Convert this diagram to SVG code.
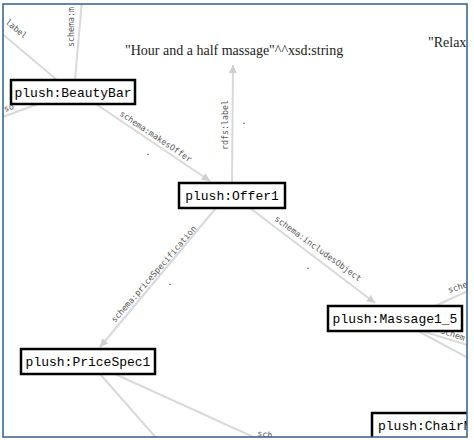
<svg xmlns="http://www.w3.org/2000/svg" width="474" height="440" viewBox="0 0 474 440">
<style>
.edge{stroke:#d9d9d9;stroke-width:2;fill:none}
.el{font-family:"DejaVu Sans Mono","Liberation Mono",monospace;font-size:8.3px;fill:#555}
.dot{font-family:"Liberation Mono",monospace;font-size:9px;fill:#333}
.box{fill:#fff;stroke:#000;stroke-width:2.5}
.nl{font-family:"Liberation Mono","DejaVu Sans Mono",monospace;font-size:13px;fill:#000}
.lit{font-family:"Liberation Serif","Times New Roman",serif;font-size:14px;fill:#222}
</style>
<defs>
<marker id="arr" viewBox="0 0 10 10" refX="10" refY="5" markerWidth="10" markerHeight="8" markerUnits="userSpaceOnUse" orient="auto">
<path d="M0,0 L10,5 L0,10 z" fill="#cfcfcf"/>
</marker>
<clipPath id="frame"><rect x="3" y="4" width="464" height="433"/></clipPath>
</defs>
<rect x="0" y="0" width="474" height="440" fill="#fff"/>
<g clip-path="url(#frame)">
<g id="connectors">
<line class="edge" x1="232" y1="183" x2="233" y2="65" marker-end="url(#arr)"/>
<line class="edge" x1="96" y1="104" x2="210" y2="181" marker-end="url(#arr)"/>
<line class="edge" x1="216" y1="208" x2="100" y2="347" marker-end="url(#arr)"/>
<line class="edge" x1="250" y1="208" x2="375" y2="303" marker-end="url(#arr)"/>
<line class="edge" x1="82" y1="0" x2="75" y2="80"/>
<line class="edge" x1="0" y1="32" x2="57" y2="80"/>
<line class="edge" x1="0" y1="118" x2="38" y2="104"/>
<line class="edge" x1="435" y1="306" x2="470" y2="290"/>
<line class="edge" x1="422" y1="331" x2="470" y2="346"/>
<line class="edge" x1="418" y1="331" x2="470" y2="359"/>
<line class="edge" x1="100" y1="374" x2="158" y2="440"/>
<line class="edge" x1="115" y1="374" x2="260" y2="440"/>
<text class="el" transform="translate(228,150) rotate(-90)">rdfs:label</text>
<text class="el" transform="translate(119,115) rotate(34)">schema:makesOffer</text>
<text class="el" transform="translate(115,323) rotate(-49)">schema:priceSpecification</text>
<text class="el" transform="translate(274,220) rotate(36)">schema:includesObject</text>
<text class="el" transform="translate(74,47) rotate(-90)">schema:m</text>
<text class="el" transform="translate(5,23) rotate(40)">label</text>
<text class="el" transform="translate(5,112) rotate(-20)">so</text>
<text class="el" transform="translate(449,293) rotate(-18)">sche</text>
<text class="el" transform="translate(440,333) rotate(18)">Schem</text>
<text class="el" transform="translate(257,436) rotate(8)">sch</text>
<text class="dot" x="244" y="124" text-anchor="middle">.</text>
<text class="dot" x="148" y="155" text-anchor="middle">.</text>
<text class="dot" x="170" y="285" text-anchor="middle">.</text>
<text class="dot" x="308" y="269" text-anchor="middle">.</text>
</g>
<g id="lit-hour"><text class="lit" x="125" y="55">"Hour and a half massage"^^xsd:string</text></g>
<g id="lit-relax"><text class="lit" x="428" y="47">"Relax</text></g>
<g id="node-beautybar"><rect class="box" x="11" y="80" width="124" height="24"/><text class="nl" x="73" y="97" text-anchor="middle">plush:BeautyBar</text></g>
<g id="node-offer1"><rect class="box" x="179" y="183" width="106" height="25"/><text class="nl" x="232" y="200" text-anchor="middle">plush:Offer1</text></g>
<g id="node-massage"><rect class="box" x="328" y="306" width="134" height="25"/><text class="nl" x="395" y="323" text-anchor="middle">plush:Massage1_5</text></g>
<g id="node-pricespec"><rect class="box" x="21" y="349" width="134" height="25"/><text class="nl" x="88" y="366" text-anchor="middle">plush:PriceSpec1</text></g>
<g id="node-chair"><rect class="box" x="372" y="413" width="120" height="30"/><text class="nl" x="378" y="430">plush:ChairM</text></g>
</g>
<rect x="3" y="4" width="464" height="433" fill="none" stroke="#2f5f8f" stroke-width="1.5"/>
</svg>
